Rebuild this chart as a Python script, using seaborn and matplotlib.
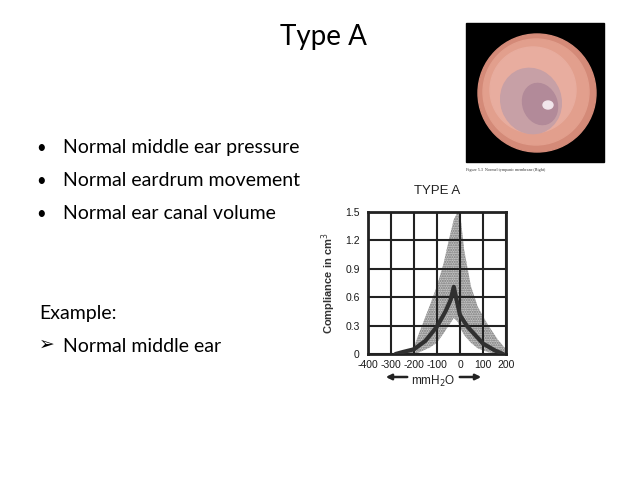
"""
Slide 'Type A' - timpanograma normal
"""

import matplotlib
matplotlib.use('Agg')
import matplotlib.pyplot as plt
from matplotlib.patches import Circle, Ellipse, Rectangle
import pandas as pd
import seaborn as sns

# Curva do timpanograma (mmH2O x cm3)
pressure = [-280, -250, -200, -150, -100, -63, -41, -27, -12, 0, 32, 100, 150, 187]
compliance = [0, 0.02, 0.05, 0.14, 0.29, 0.45, 0.57, 0.71, 0.54, 0.41, 0.29, 0.11, 0.04, 0]

# Faixa normal (area pontilhada)
band_pressure = [-235, -200, -175, -130, -100, -71, -49, -27, -10, 0, 18, 47, 77, 121, 165, 200]
band_upper = [0, 0.08, 0.24, 0.52, 0.72, 0.96, 1.2, 1.42, 1.5, 1.5, 1.1, 0.72, 0.5, 0.31, 0.15, 0.05]
band_lower = [0, 0, 0.02, 0.07, 0.12, 0.22, 0.30, 0.38, 0.34, 0.28, 0.20, 0.12, 0.06, 0.02, 0, 0]

x_ticks = [-400, -300, -200, -100, 0, 100, 200]
y_ticks = [0, 0.3, 0.6, 0.9, 1.2, 1.5]
y_tick_labels = ['0', '0.3', '0.6', '0.9', '1.2', '1.5']

title = 'Type A'
bullets = ['Normal middle ear pressure', 'Normal eardrum movement', 'Normal ear canal volume']
example_label = 'Example:'
example_item = 'Normal middle ear'
caption = 'Figure 5.3  Normal tympanic membrane (Right)'

sns.set_style('white')
plt.rcParams['font.family'] = ['Lato', 'DejaVu Sans']

W, H = 638, 478
fig = plt.figure(figsize=(W / 100, H / 100), dpi=100)

# Camada do slide em coordenadas de pixel
slide = fig.add_axes([0, 0, 1, 1])
slide.set_xlim(0, W)
slide.set_ylim(H, 0)
slide.axis('off')

slide.text(323, 45, title, fontsize=20, ha='center', va='baseline', color='black')
for i, b in enumerate(bullets):
    yb = 153 + i * 33
    slide.text(41, yb - 5, '\u2022', fontsize=12, ha='center', va='center', color='black')
    slide.text(63, yb, b, fontsize=14, ha='left', va='baseline', color='black')
slide.text(39, 319, example_label, fontsize=14, ha='left', va='baseline', color='black')
slide.text(39, 350, '\u27a2', fontsize=13.5, ha='left', va='baseline', color='black',
           family=['DejaVu Sans'])
slide.text(63, 352, example_item, fontsize=14, ha='left', va='baseline', color='black')

# Foto da membrana timpanica (aproximacao)
slide.add_patch(Rectangle((466, 23), 138, 139, color='black'))
slide.add_patch(Circle((537, 93), 59, color='#d48a78'))
slide.add_patch(Circle((536, 92), 53, color='#e29f8d'))
slide.add_patch(Circle((533, 90), 43, color='#e8ad9f'))
slide.add_patch(Ellipse((531, 101), 60, 66, angle=-20, color='#c7a0a6'))
slide.add_patch(Ellipse((540, 104), 34, 42, angle=-20, color='#b28a99'))
slide.add_patch(Ellipse((548, 105), 10, 8, color='#f2e6ec'))
slide.text(466, 171, caption, fontsize=3, ha='left', va='baseline', color='#333333',
           family=['Liberation Serif'])

# Setas do eixo x
slide.annotate('', xy=(383, 377), xytext=(410, 377),
               arrowprops=dict(arrowstyle='-|>', color='#222222', lw=1.8, mutation_scale=8))
slide.annotate('', xy=(484, 377), xytext=(457, 377),
               arrowprops=dict(arrowstyle='-|>', color='#222222', lw=1.8, mutation_scale=8))

# Grafico do timpanograma
ax = fig.add_axes([368 / W, 1 - 354 / H, 138 / W, 142 / H])
ax.fill_between(band_pressure, band_lower, band_upper, facecolor='#c4c4c4',
                edgecolor='#777777', hatch='.......', linewidth=0, zorder=1)
df = pd.DataFrame({'pressure': pressure, 'compliance': compliance})
sns.lineplot(data=df, x='pressure', y='compliance', ax=ax, color='#303030',
             linewidth=3, zorder=3)
ax.set_xlim(-400, 200)
ax.set_ylim(0, 1.5)
ax.set_xticks(x_ticks)
ax.set_xticklabels([str(t) for t in x_ticks], family=['Liberation Sans'], fontsize=7.5,
                   color='#1a1a1a')
ax.set_yticks(y_ticks)
ax.set_yticklabels(y_tick_labels, family=['Liberation Sans'], fontsize=7.5, color='#1a1a1a')
ax.tick_params(length=0, pad=4)
ax.tick_params(axis='y', pad=6)
ax.grid(True, color='#222222', linewidth=1.5, zorder=2)
ax.set_axisbelow(False)
for s in ax.spines.values():
    s.set_color('#222222')
    s.set_linewidth(2)
ax.set_facecolor('white')
ax.set_xlabel('')
ax.set_ylabel(r'Compliance in cm$^3$', family=['Liberation Sans'], fontsize=8,
              labelpad=5, fontweight='bold', color='#333333')
ax.set_title('TYPE A', family=['Liberation Sans'], fontsize=9.5, pad=13, color='#222222')

slide.text(433, 385, r'mmH$_2$O', fontsize=8.5, ha='center', va='baseline',
           family=['Liberation Sans'], color='#222222')
slide.set_zorder(0)
ax.set_zorder(1)

plt.savefig('out.png', dpi=100)
